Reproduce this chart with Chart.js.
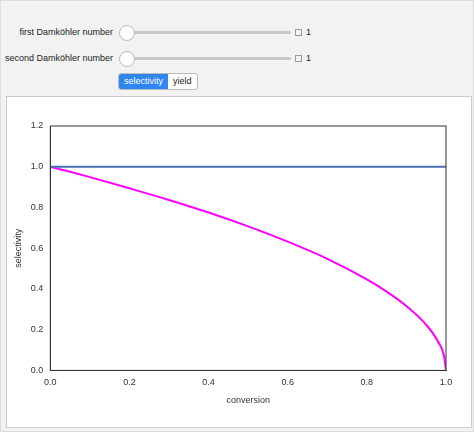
<!DOCTYPE html>
<html><head><meta charset="utf-8">
<script src="https://cdn.jsdelivr.net/npm/chart.js@4"></script>
<style>
body{margin:0;width:474px;height:432px;background:#fff;font-family:"Liberation Sans",Arial,sans-serif;font-size:9px;color:#222;}
#panel{position:absolute;left:0;top:0;width:472px;height:430px;background:#f2f2f2;border:1px solid #ddd;}
.lbl{position:absolute;text-align:right;width:112px;left:0;}
.track{position:absolute;left:122px;width:168px;height:3px;background:#c8c8c8;border-radius:2px;}
.knob{position:absolute;left:118px;width:14px;height:14px;border-radius:50%;background:#fff;border:1px solid #bbb;}
.plus{position:absolute;left:294px;width:5px;height:5px;border:1px solid #999;}
.val{position:absolute;left:305px;}
#seg{position:absolute;left:117px;top:72px;height:15px;border:1px solid #bbb;border-radius:3px;display:flex;overflow:hidden;background:#fff;}
#seg div{padding:1px 5px;line-height:13px;}
#box{position:absolute;left:5px;top:95px;width:464px;height:330px;background:#fff;border:1px solid #ccc;}
</style></head><body>
<div id="panel">
<div class="lbl" style="top:26px">first Damköhler number</div>
<div class="track" style="top:30px"></div><div class="knob" style="top:24px"></div>
<div class="plus" style="top:28px"></div><div class="val" style="top:26px">1</div>
<div class="lbl" style="top:52px">second Damköhler number</div>
<div class="track" style="top:56px"></div><div class="knob" style="top:50px"></div>
<div class="plus" style="top:54px"></div><div class="val" style="top:52px">1</div>
<div id="seg"><div style="background:#2f86f0;color:#fff">selectivity</div><div>yield</div></div>
<div id="box"><canvas id="c" width="464" height="330"></canvas></div>
</div>
<script>
const conversion = [0, 0.05, 0.1, 0.2, 0.3, 0.4, 0.5, 0.6, 0.7, 0.8, 0.85, 0.9, 0.95, 0.98, 0.995, 1.0];
const selectivityA = [1, 1, 1, 1, 1, 1, 1, 1, 1, 1, 1, 1, 1, 1, 1, 1];
const selectivityB = [1, 0.975, 0.949, 0.894, 0.837, 0.775, 0.707, 0.632, 0.548, 0.447, 0.387, 0.316, 0.224, 0.141, 0.071, 0];
const xTicks = [0, 0.2, 0.4, 0.6, 0.8, 1.0];
const yTicks = [0, 0.2, 0.4, 0.6, 0.8, 1.0, 1.2];

const pts = ys => conversion.map((x, i) => ({x, y: ys[i]}));
new Chart(document.getElementById('c'), {
  type: 'line',
  data: {datasets: [
    {data: pts(selectivityA), borderColor: '#4a6fb5', borderWidth: 2, pointRadius: 0, tension: 0},
    {data: pts(selectivityB), borderColor: '#ff00ff', borderWidth: 2, pointRadius: 0, tension: 0.4, cubicInterpolationMode: 'monotone'}
  ]},
  options: {
    responsive: false, animation: false,
    layout: {padding: {top: 29, right: 25, left: 2, bottom: 17}},
    plugins: {legend: {display: false}, tooltip: {enabled: false}},
    scales: {
      x: {type: 'linear', min: 0, max: 1,
        afterBuildTicks: s => { s.ticks = xTicks.map(v => ({value: v})); },
        ticks: {callback: v => v.toFixed(1), font: {size: 9}, color: '#333', maxRotation: 0},
        grid: {display: false, drawTicks: true, tickLength: 4},
        border: {color: '#333'},
        title: {display: true, text: 'conversion', font: {size: 9}, color: '#333'}},
      y: {min: 0, max: 1.2,
        afterBuildTicks: s => { s.ticks = yTicks.map(v => ({value: v})); },
        ticks: {callback: v => v.toFixed(1), font: {size: 9}, color: '#333'},
        grid: {display: false, tickLength: 4},
        border: {color: '#333'},
        title: {display: true, text: 'selectivity', font: {size: 9}, color: '#333'}}
    }
  },
  plugins: [{id: 'frame', afterDraw(ch) {
    const a = ch.chartArea, c = ch.ctx;
    c.save(); c.strokeStyle = '#333'; c.lineWidth = 1;
    c.strokeRect(a.left, a.top, a.right - a.left, a.bottom - a.top); c.restore();
  }}]
});
</script>
</body></html>
